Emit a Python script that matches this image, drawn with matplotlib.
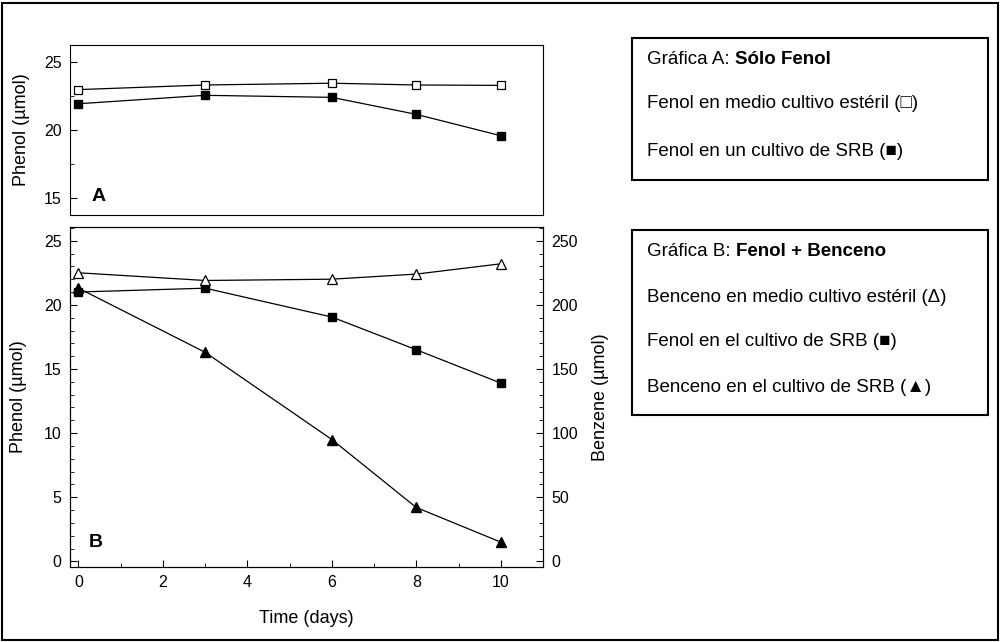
import matplotlib
matplotlib.use("Agg")
import matplotlib.pyplot as plt
from matplotlib.patches import Rectangle
from matplotlib.ticker import MultipleLocator

plt.rcParams["font.family"] = "Liberation Sans"

days = [0, 3, 6, 8, 10]
a_sterile_phenol = [22.97, 23.31, 23.44, 23.31, 23.28]
a_srb_phenol = [21.93, 22.55, 22.40, 21.15, 19.58]
b_sterile_benzene = [225, 219, 220, 224, 232]
b_srb_phenol = [21.0, 21.3, 19.05, 16.5, 13.9]
b_srb_benzene = [213, 163, 95, 42, 15]

W, H = 1002, 642
fig = plt.figure(figsize=(W/100, H/100), dpi=100)

def ax_at(x0, y0, x1, y1):
    return fig.add_axes([x0/W, 1-y1/H, (x1-x0)/W, (y1-y0)/H])

fs = 11.5
lfs = 13
axA = ax_at(70, 45, 543, 215)
axA.plot(days, a_sterile_phenol, "-s", color="black", mfc="white", ms=6, lw=0.9, mew=0.9)
axA.plot(days, a_srb_phenol, "-s", color="black", mfc="black", ms=6, lw=0.9)
axA.set_xlim(-0.2, 11)
axA.set_ylim(13.75, 26.25)
axA.set_yticks([15, 20, 25])
axA.yaxis.set_minor_locator(MultipleLocator(2.5))
axA.set_xticks([])
axA.set_ylabel("Phenol (µmol)", fontsize=lfs)
axA.text(0.045, 0.08, "A", transform=axA.transAxes, fontsize=14, fontweight="bold")

axB = ax_at(70, 227, 543, 567)
axB.plot(days, b_srb_phenol, "-s", color="black", mfc="black", ms=6, lw=0.9)
axB.set_xlim(-0.2, 11)
axB.set_ylim(-0.44, 26.07)
axB.set_yticks([0, 5, 10, 15, 20, 25])
axB.yaxis.set_minor_locator(MultipleLocator(1))
axB.set_xticks([0, 2, 4, 6, 8, 10])
axB.xaxis.set_minor_locator(MultipleLocator(1))
axB.set_ylabel("Phenol (µmol)", fontsize=lfs)
axB.set_xlabel("Time (days)", fontsize=lfs, labelpad=14)
axB.text(0.04, 0.06, "B", transform=axB.transAxes, fontsize=14, fontweight="bold")
axB2 = axB.twinx()
axB2.plot(days, b_sterile_benzene, "-^", color="black", mfc="white", ms=7, lw=0.9, mew=0.9)
axB2.plot(days, b_srb_benzene, "-^", color="black", mfc="black", ms=7, lw=0.9)
axB2.set_ylim(-4.4, 260.7)
axB2.set_yticks([0, 50, 100, 150, 200, 250])
axB2.yaxis.set_minor_locator(MultipleLocator(10))
axB2.set_ylabel("Benzene (µmol)", fontsize=lfs, labelpad=10)

for ax in (axA, axB, axB2):
    ax.tick_params(direction="in", labelsize=fs, length=5, width=0.8, pad=6)
    ax.tick_params(which="minor", direction="in", length=3, width=0.6)
    for s in ax.spines.values():
        s.set_linewidth(0.8)
axA.tick_params(axis="x", which="both", bottom=False)
axA.yaxis.labelpad = 10
axB.yaxis.labelpad = 12

fig.add_artist(Rectangle((2/W, 2/H), 996/W, 637/H, transform=fig.transFigure,
                         fill=False, lw=1.5, ec="black"))
for (x0, y0, x1, y1) in [(632, 38, 988, 180), (632, 230, 988, 415)]:
    fig.add_artist(Rectangle((x0/W, 1-y1/H), (x1-x0)/W, (y1-y0)/H,
                             transform=fig.transFigure, fill=False, lw=1.5, ec="black"))

r = fig.canvas.get_renderer()
tfs = 13.5
def mixed(x, y, normal, bold):
    t = fig.text(x/W, 1-y/H, normal, fontsize=tfs, va="center")
    bb = t.get_window_extent(renderer=r)
    fig.text(bb.x1/W, 1-y/H, bold, fontsize=tfs, va="center", fontweight="bold")

def line(x, y, s):
    fig.text(x/W, 1-y/H, s, fontsize=tfs, va="center")

mixed(647, 59, "Gráfica A: ", "Sólo Fenol")
line(647, 104, "Fenol en medio cultivo estéril (□)")
line(647, 151, "Fenol en un cultivo de SRB (■)")
mixed(647, 251, "Gráfica B: ", "Fenol + Benceno")
line(647, 298, "Benceno en medio cultivo estéril (Δ)")
line(647, 342, "Fenol en el cultivo de SRB (■)")
line(647, 388, "Benceno en el cultivo de SRB (▲)")

fig.savefig("out.png", dpi=100)
